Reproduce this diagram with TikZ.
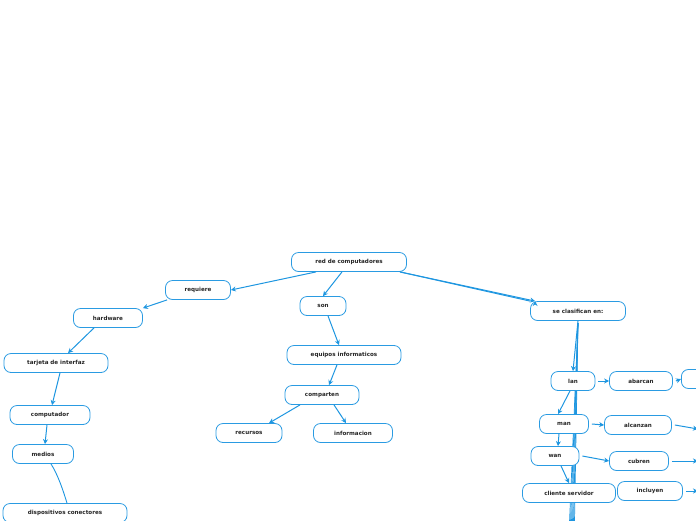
\documentclass[tikz,border=0pt]{standalone}
\usepackage{fontspec}
\setmainfont{DejaVu Sans}
\usetikzlibrary{arrows.meta}
\definecolor{lc}{HTML}{1E96E0}
\definecolor{bc}{HTML}{2A9BE2}
\begin{document}
\begin{tikzpicture}[x=1pt,y=-1pt,
  box/.style={draw=bc,line width=0.8pt,rounded corners=7pt,minimum height=19pt,inner sep=0pt,fill=white,font=\fontsize{5.6}{6}\selectfont\bfseries,text=black!85},
  con/.style={draw=lc,line width=1pt,-{Stealth[length=5pt,width=5pt]}},
  pl/.style={draw=lc,line width=0.9pt}]
\useasboundingbox (0,0) rectangle (696,520);
\begin{scope}
\clip (0,0) rectangle (696,520);
% bundle
\foreach \d in {-2.5,-1.5,-0.5,0.5,1.5,2.5}{\draw[pl,line width=0.7pt] (578,323) -- (572+\d,522);}
\node[box,minimum width=115pt] (red) at (349,262) {red de computadores};
\node[box,minimum width=65pt] (req) at (198,290) {requiere};
\node[box,minimum width=46pt] (son) at (323,306) {son};
\node[box,minimum width=95pt] (sec) at (578,311) {se clasifican en:};
\node[box,minimum width=69pt] (hw) at (108,318) {hardware};
\node[box,minimum width=114pt] (eq) at (344,355) {equipos informaticos};
\node[box,minimum width=104pt] (tar) at (56,363) {tarjeta de interfaz};
\node[box,minimum width=74pt] (comp) at (322,395) {comparten};
\node[box,minimum width=66pt] (rec) at (249,433) {recursos};
\node[box,minimum width=79pt] (inf) at (353,433) {informacion};
\node[box,minimum width=80pt] (cpu) at (50,415) {computador};
\node[box,minimum width=61pt] (med) at (43,454) {medios};
\node[box,minimum width=124pt] (dis) at (65,513) {dispositivos conectores};
\node[box,minimum width=44pt] (lan) at (573,381) {lan};
\node[box,minimum width=63pt] (aba) at (641,381) {abarcan};
\node[box,minimum width=40pt,anchor=west] (x1) at (681,379) {};
\node[box,minimum width=49pt] (man) at (564,424) {man};
\node[box,minimum width=67pt] (alc) at (638,425) {alcanzan};
\node[box,minimum width=48pt] (wan) at (555,456) {wan};
\node[box,minimum width=59pt] (cub) at (639,461) {cubren};
\node[box,minimum width=93pt] (cli) at (569,493) {cliente servidor};
\node[box,minimum width=65pt] (inc) at (650,491) {incluyen};
\coordinate (e1) at (698,429);
\coordinate (e2) at (698,461);
\coordinate (e3) at (698,491);
\draw[con] (red.south west) ++(25,0) -- (req.east);
\draw[con] ([xshift=-7pt]red.south) -- (son.north);
\draw[con] (red.south east) ++(-7,0) -- (sec.north west) ++ (5,0);
\draw[con] (red.south east) ++(-7,0) -- ([xshift=5pt]sec.north west);
\draw[con] (req.south west) ++(2,0) -- (hw.north east);
\draw[con] ([xshift=5pt]son.south) -- ([xshift=-5pt]eq.north);
\draw[con] ([xshift=-14pt]hw.south) -- ([xshift=12pt]tar.north);
\draw[con] ([xshift=-7pt]eq.south) -- ([xshift=7pt]comp.north);
\draw[con] ([xshift=-22pt]comp.south) -- ([xshift=20pt]rec.north);
\draw[con] ([xshift=12pt]comp.south) -- ([xshift=-7pt]inf.north);
\draw[con] ([xshift=4pt]tar.south) -- ([xshift=2pt]cpu.north);
\draw[con] ([xshift=-3pt]cpu.south) -- ([xshift=2pt]med.north);
\draw[pl] ([xshift=8pt]med.south) .. controls (58,475) and (63,490) .. ([xshift=2pt]dis.north);
\draw[con] (sec.south) -- (lan.north);
\draw[con] ([xshift=-3pt]lan.south) -- ([xshift=-6pt]man.north);
\draw[con] ([xshift=-5pt]man.south) -- ([xshift=3pt]wan.north);
\draw[con] ([xshift=6pt]wan.south) -- (cli.north);
\draw[con] (lan.east) ++(3,0) -- (aba.west);
\draw[con] (aba.east) ++(3,0) -- (x1.west);
\draw[con] (man.east) ++(3,0) -- (alc.west);
\draw[con] (wan.east) ++(3,0) -- (cub.west);
\draw[con] (alc.east) ++(3,0) -- (e1);
\draw[con] (cub.east) ++(3,0) -- (e2);
\draw[con] (inc.east) ++(3,0) -- (e3);
\end{scope}
\end{tikzpicture}
\end{document}
